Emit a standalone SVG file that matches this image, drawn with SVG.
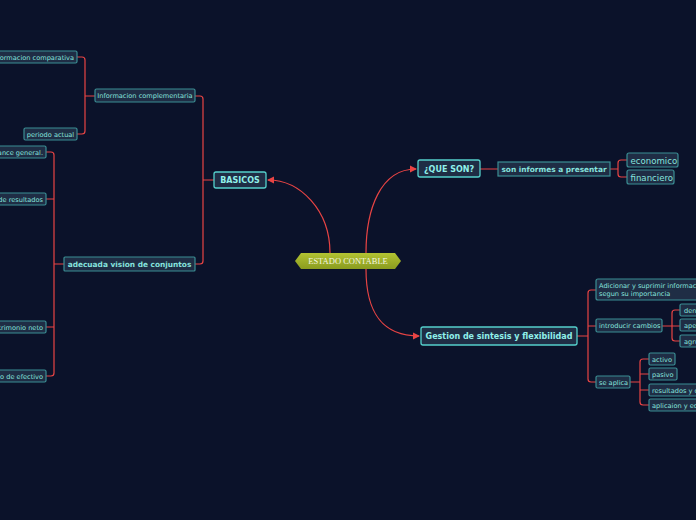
<svg xmlns="http://www.w3.org/2000/svg" width="696" height="520" viewBox="0 0 696 520">
<defs>
<linearGradient id="g" x1="0" y1="0" x2="0" y2="1"><stop offset="0" stop-color="#b3c332"/><stop offset="1" stop-color="#8a9c1f"/></linearGradient>
<marker id="ar" viewBox="0 0 6 6" refX="5" refY="3" markerWidth="6" markerHeight="6" orient="auto"><path d="M0,0L6,3L0,6z" fill="#e84444"/></marker>
</defs>
<style>
.n rect{fill:#1f2d45;stroke:#3b8e94;stroke-width:1.2}
.m rect{fill:#1f2d45;stroke:#55d0cc;stroke-width:1.3}
.n text{font-family:"DejaVu Sans",sans-serif;font-size:6.6px;fill:#86e3de}
.m text{font-family:"DejaVu Sans",sans-serif;font-size:8px;font-weight:bold;fill:#90f0ea}
.c path{fill:none;stroke:#e84444;stroke-width:1.2}
</style>
<rect width="696" height="520" fill="#0b122a"/>
<g class="c">
<path d="M330,253 C330,210 300,180 268,180" marker-end="url(#ar)"/>
<path d="M366,253 C366,210 380,169 416,169" marker-end="url(#ar)"/>
<path d="M366,269 C366,310 380,336 419,336" marker-end="url(#ar)"/>
<path d="M214,180H203M195,96h5q3,0 3,3V261q0,3 -3,3h-5"/>
<path d="M95,96H85M77,57h5q3,0 3,3V131q0,3 -3,3h-5"/>
<path d="M64,264H54M46,152h5q3,0 3,3V373q0,3 -3,3h-5M46,199h8M46,327h8"/>
<path d="M480,169H498M610,169H618M627,160h-6q-3,0 -3,3V174q0,3 3,3h6"/>
<path d="M577,336H588M596,290h-5q-3,0 -3,3V379q0,3 3,3h5M588,326h8"/>
<path d="M662,326H672M680,310h-5q-3,0 -3,3V338q0,3 3,3h5M672,326h8"/>
<path d="M630,382H640M649,359h-6q-3,0 -3,3V402q0,3 3,3h6M640,374h9M640,390h9"/>
</g>
<g id="center"><polygon points="295,261 301,253 395,253 401,261 395,269 301,269" fill="url(#g)"/><text x="348" y="264" text-anchor="middle" font-family="Liberation Serif,serif" font-size="8.5" fill="#f4f6e0">ESTADO CONTABLE</text></g>
<g id="basicos" class="m"><rect x="214" y="172" width="52" height="16" rx="2"/><text x="240" y="183" text-anchor="middle">BASICOS</text></g>
<g id="queson" class="m"><rect x="418" y="160" width="62" height="17" rx="2"/><text x="449" y="171.5" text-anchor="middle">¿QUE SON?</text></g>
<g id="gestion" class="m"><rect x="421" y="327" width="156" height="18" rx="2"/><text x="499" y="339" text-anchor="middle" style="font-size:8px">Gestion de sintesis y flexibilidad</text></g>
<g id="infocomp" class="n"><rect x="95" y="89" width="100" height="13" rx="1.5"/><text x="145" y="98" text-anchor="middle">Informacion complementaria</text></g>
<g id="adecuada" class="n"><rect x="64" y="257" width="131" height="14" rx="1"/><text x="129.5" y="267" text-anchor="middle" style="font-weight:bold;font-size:7.4px">adecuada vision de conjuntos</text></g>
<g id="infocompar" class="n"><rect x="-6" y="51" width="83" height="12" rx="1.5"/><text x="74" y="59.5" text-anchor="end">Informacion comparativa</text></g>
<g id="periodo" class="n"><rect x="24" y="128" width="53" height="12" rx="1.5"/><text x="50.5" y="136.5" text-anchor="middle">periodo actual</text></g>
<g id="balance" class="n"><rect x="-6" y="146" width="52" height="12" rx="1.5"/><text x="43" y="154.5" text-anchor="end">balance general.</text></g>
<g id="resultados" class="n"><rect x="-6" y="193" width="52" height="12" rx="1.5"/><text x="43" y="201.5" text-anchor="end">estado de resultados</text></g>
<g id="patrimonio" class="n"><rect x="-6" y="321" width="52" height="12" rx="1.5"/><text x="43" y="329.5" text-anchor="end">patrimonio neto</text></g>
<g id="flujo" class="n"><rect x="-6" y="370" width="52" height="12" rx="1.5"/><text x="43" y="378.5" text-anchor="end">flujo de efectivo</text></g>
<g id="informes" class="n"><rect x="498" y="162" width="112" height="14" rx="0"/><text x="554" y="172" text-anchor="middle" style="font-weight:bold;font-size:7.4px">son informes a presentar</text></g>
<g id="economico" class="n"><rect x="627" y="153" width="51" height="14" rx="2"/><text x="630.5" y="163.5" style="font-size:8.6px">economico</text></g>
<g id="financiero" class="n"><rect x="627" y="170" width="47" height="14" rx="2"/><text x="630.5" y="180.5" style="font-size:8.6px">financiero</text></g>
<g id="adicionar" class="n"><rect x="596" y="279" width="110" height="21" rx="2"/><text x="599" y="287.5">Adicionar y suprimir informacion</text><text x="599" y="296">segun su importancia</text></g>
<g id="introducir" class="n"><rect x="596" y="319" width="66" height="13" rx="1.5"/><text x="599" y="328">introducir cambios</text></g>
<g id="den" class="n"><rect x="680" y="304" width="30" height="12" rx="1.5"/><text x="684" y="312.5">denominacion</text></g>
<g id="ape" class="n"><rect x="680" y="319" width="30" height="12" rx="1.5"/><text x="684" y="327.5">apertura</text></g>
<g id="agr" class="n"><rect x="680" y="335" width="30" height="12" rx="1.5"/><text x="684" y="343.5">agrupacion</text></g>
<g id="seaplica" class="n"><rect x="596" y="376" width="34" height="12" rx="1.5"/><text x="599" y="384.5">se aplica</text></g>
<g id="activo" class="n"><rect x="649" y="353" width="26" height="12" rx="1.5"/><text x="652" y="361.5">activo</text></g>
<g id="pasivo" class="n"><rect x="649" y="368" width="28" height="12" rx="1.5"/><text x="652" y="376.5">pasivo</text></g>
<g id="resc" class="n"><rect x="649" y="384" width="60" height="12" rx="1.5"/><text x="652" y="392.5">resultados y otros</text></g>
<g id="aplic" class="n"><rect x="649" y="399" width="60" height="12" rx="1.5"/><text x="652" y="407.5">aplicaion y equivalentes</text></g>
</svg>
